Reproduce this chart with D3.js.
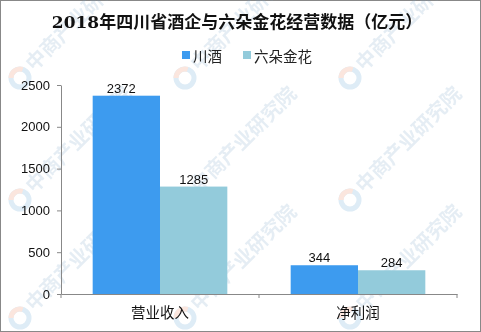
<!DOCTYPE html>
<html>
<head>
<meta charset="utf-8">
<script src="https://cdn.jsdelivr.net/npm/d3@7"></script>
<style>
  body { margin: 0; background: #fff; }
  text { font-family: "Liberation Sans", Arial, "Noto Sans CJK SC", sans-serif; }
</style>
</head>
<body>
<div id="chart"></div>
<script>
// Data
const categories = ['营业收入', '净利润']
const seriesNames = ['川酒', '六朵金花']
const chuanjiu = [2372, 344]
const liuduo = [1285, 284]
const yTicks = [0, 500, 1000, 1500, 2000, 2500]

const colors = ['#3d9bef', '#93cbdb']

// Dimensions
let dimensions = {
  width: 481,
  height: 332,
  margins: { top: 85, right: 24, bottom: 38, left: 61 },
}
dimensions.ctrWidth = dimensions.width - dimensions.margins.left - dimensions.margins.right
dimensions.ctrHeight = dimensions.height - dimensions.margins.top - dimensions.margins.bottom

const svg = d3.select('#chart')
  .append('svg')
  .attr('width', dimensions.width)
  .attr('height', dimensions.height)

// border
svg.append('rect')
  .attr('x', 0.5).attr('y', 0.5)
  .attr('width', dimensions.width - 1)
  .attr('height', dimensions.height - 1)
  .attr('fill', '#fff')
  .attr('stroke', '#888')

// watermarks (faint, repeated)
const wm = svg.append('g').attr('opacity', 0.2)
;[78, 200, 318].forEach(wy => {
  [20, 185, 350].forEach(wx => {
    const g = wm.append('g').attr('transform', `translate(${wx}, ${wy})`)
    g.append('circle').attr('r', 9).attr('fill', 'none')
      .attr('stroke', '#5a9fd0').attr('stroke-width', 5)
    g.append('path').attr('d', d3.arc()({ innerRadius: 6.5, outerRadius: 11.5, startAngle: -Math.PI / 2, endAngle: 0.3 }))
      .attr('fill', '#e8825a')
    g.append('text')
      .attr('transform', 'translate(14, -6) rotate(-45)')
      .attr('font-size', 20)
      .attr('font-weight', 'bold')
      .attr('fill', '#7fa7c8')
      .style('font-family', '"Noto Sans CJK SC", sans-serif')
      .text('中商产业研究院')
  })
})

// Title
svg.append('text')
  .attr('x', 237)
  .attr('y', 28)
  .attr('text-anchor', 'middle')
  .attr('font-size', 17)
  .attr('font-weight', 'bold')
  .attr('fill', '#111')
  .style('font-family', '"DejaVu Serif", "Noto Sans CJK SC", serif')
  .text('2018年四川省酒企与六朵金花经营数据（亿元）')

// Legend
const legend = svg.append('g').attr('transform', 'translate(182, 0)')
const legendX = [0, 61]
seriesNames.forEach((name, i) => {
  const lg = legend.append('g').attr('transform', `translate(${legendX[i]}, 51)`)
  lg.append('rect').attr('width', 8).attr('height', 8).attr('fill', colors[i])
  lg.append('text')
    .attr('x', 11).attr('y', 4)
    .attr('dominant-baseline', 'central')
    .attr('font-size', 14.5)
    .attr('fill', '#222')
    .style('font-family', '"Noto Sans CJK SC", sans-serif')
    .text(name)
})

const ctr = svg.append('g')
  .attr('transform', `translate(${dimensions.margins.left}, ${dimensions.margins.top})`)

// Scales
const xScale = d3.scaleBand()
  .domain(categories)
  .range([0, dimensions.ctrWidth])
  .paddingInner(0.32)
  .paddingOuter(0.16)

const xSub = d3.scaleBand()
  .domain(seriesNames)
  .range([0, xScale.bandwidth()])

const yScale = d3.scaleLinear()
  .domain([0, 2500])
  .range([dimensions.ctrHeight, 0])

// Bars
const series = [chuanjiu, liuduo]
const rows = categories.map((c, ci) => seriesNames.map((s, si) => ({ cat: c, name: s, value: series[si][ci], si })))

const groups = ctr.selectAll('g.grp')
  .data(rows)
  .join('g')
  .attr('class', 'grp')
  .attr('transform', d => `translate(${xScale(d[0].cat)}, 0)`)

groups.selectAll('rect')
  .data(d => d)
  .join('rect')
  .attr('x', d => xSub(d.name))
  .attr('y', d => yScale(d.value))
  .attr('width', xSub.bandwidth())
  .attr('height', d => dimensions.ctrHeight - yScale(d.value))
  .attr('fill', d => colors[d.si])

groups.selectAll('text')
  .data(d => d)
  .join('text')
  .attr('x', d => xSub(d.name) + xSub.bandwidth() / 2 - (d.si === 0 ? 5 : 0))
  .attr('y', d => yScale(d.value) - 3)
  .attr('text-anchor', 'middle')
  .attr('font-size', 13)
  .attr('fill', '#111')
  .text(d => d.value)

// Axes
const yAxis = d3.axisLeft(yScale)
  .tickValues(yTicks)
  .tickFormat(d3.format('d'))
  .tickSize(4)
  .tickSizeOuter(0)

const yG = ctr.append('g').call(yAxis)
yG.select('.domain').attr('stroke', '#888')
yG.selectAll('.tick line').attr('stroke', '#888')
yG.selectAll('.tick text')
  .attr('x', -11)
  .attr('font-size', 13)
  .attr('fill', '#111')
  .style('font-family', '"Liberation Sans", Arial, sans-serif')

const xG = ctr.append('g')
  .attr('transform', `translate(0, ${dimensions.ctrHeight})`)
  .call(d3.axisBottom(xScale).tickSize(0).tickSizeOuter(0))
xG.select('.domain').attr('stroke', '#888')
xG.selectAll('.tick text')
  .attr('y', 14)
  .attr('font-size', 14.5)
  .attr('fill', '#111')
  .style('font-family', '"Noto Sans CJK SC", sans-serif')

// separators between categories
const bounds = [0, dimensions.ctrWidth / 2, dimensions.ctrWidth]
xG.selectAll('line.sep')
  .data(bounds)
  .join('line')
  .attr('class', 'sep')
  .attr('x1', d => d).attr('x2', d => d)
  .attr('y1', 0).attr('y2', 4)
  .attr('stroke', '#888')
</script>
</body>
</html>
